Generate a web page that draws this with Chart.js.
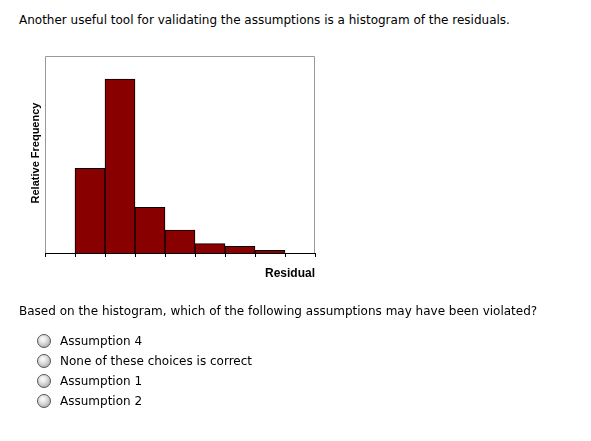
<!DOCTYPE html>
<html>
<head>
<meta charset="utf-8">
<script src="https://cdn.jsdelivr.net/npm/chart.js@4"></script>
<style>
  body { margin: 0; width: 591px; height: 441px; background: #fff; position: relative; font-family: "DejaVu Sans", Verdana, sans-serif; font-size: 12px; color: #000; overflow: hidden; }
  .t { position: absolute; white-space: nowrap; line-height: 14px; }
  #wrap { position: absolute; left: 0; top: 0; width: 591px; height: 441px; }
  .lbl { position: absolute; font-family: "Liberation Sans", Arial, sans-serif; font-weight: bold; font-size: 12px; white-space: nowrap; }
  .radio { position: absolute; width: 12px; height: 12px; border-radius: 50%; border: 1px solid #555; background: radial-gradient(circle at 40% 35%, #fff 0%, #ddd 40%, #999 100%); }
</style>
</head>
<body>
<div class="t" style="left:19px;top:13px;">Another useful tool for validating the assumptions is a histogram of the residuals.</div>
<div id="wrap"><canvas id="hist"></canvas></div>
<div class="lbl" style="left:35px;top:153px;transform:translate(-50%,-50%) rotate(-90deg);font-size:11px;">Relative Frequency</div>
<div class="lbl" style="right:276px;top:266px;">Residual</div>
<div class="t" style="left:19px;top:304px;">Based on the histogram, which of the following assumptions may have been violated?</div>
<div id="opts"></div>
<script>
const bins = ['b0', 'b1', 'b2', 'b3', 'b4', 'b5', 'b6', 'b7', 'b8'];
const freq = [0, 0.245, 0.503, 0.132, 0.066, 0.027, 0.019, 0.008, 0];
const choices = ['Assumption 4', 'None of these choices is correct', 'Assumption 1', 'Assumption 2'];

const opts = document.getElementById('opts');
choices.forEach((c, i) => {
    const y = 334 + i * 20;
    opts.insertAdjacentHTML('beforeend',
        `<div class="radio" style="left:37px;top:${y}px;"></div><div class="t" style="left:60px;top:${y}px;">${c}</div>`);
});

const framePlugin = {
    id: 'frame',
    afterDatasetsDraw(chart) {
        const { ctx, chartArea: a, scales: { x } } = chart;
        ctx.save();
        ctx.strokeStyle = '#999';
        ctx.lineWidth = 1;
        ctx.beginPath();
        ctx.moveTo(a.left + 0.5, a.bottom);
        ctx.lineTo(a.left + 0.5, a.top + 0.5);
        ctx.lineTo(a.right - 0.5, a.top + 0.5);
        ctx.lineTo(a.right - 0.5, a.bottom);
        ctx.stroke();
        ctx.strokeStyle = '#000';
        ctx.beginPath();
        ctx.moveTo(a.left, a.bottom + 0.5);
        ctx.lineTo(a.right, a.bottom + 0.5);
        const half = (x.getPixelForValue(1) - x.getPixelForValue(0)) / 2;
        for (let i = 0; i <= bins.length; i++) {
            const px = Math.round(x.getPixelForValue(0) - half + i * 2 * half) + 0.5;
            ctx.moveTo(px, a.bottom);
            ctx.lineTo(px, a.bottom + 4);
        }
        ctx.stroke();
        ctx.restore();
    }
};

new Chart(document.getElementById('hist'), {
    type: 'bar',
    data: {
        labels: bins,
        datasets: [{
            data: freq,
            backgroundColor: '#880000',
            borderColor: '#000',
            borderWidth: 1,
            barPercentage: 1,
            categoryPercentage: 1
        }]
    },
    options: {
        responsive: true,
        maintainAspectRatio: false,
        animation: false,
        layout: { padding: { left: 45, right: 276, top: 56, bottom: 188 } },
        plugins: { legend: { display: false }, tooltip: { enabled: false } },
        scales: {
            x: { display: false },
            y: { display: false, min: 0, max: 0.57 }
        }
    },
    plugins: [framePlugin]
});
</script>
</body>
</html>
